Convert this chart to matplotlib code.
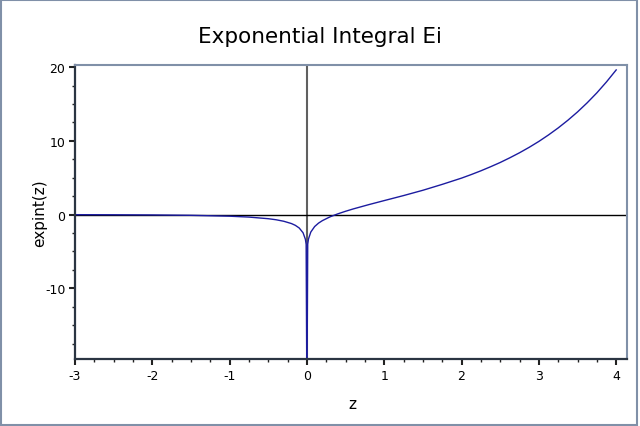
import numpy as np
import matplotlib
matplotlib.use("Agg")
import matplotlib.pyplot as plt
from matplotlib.patches import Rectangle
from matplotlib.ticker import MultipleLocator

plt.rcParams["axes.unicode_minus"] = False

# values
z = [-3, -2.5, -2, -1.5, -1, -0.75, -0.5, -0.4, -0.3, -0.2, -0.15, -0.1, -0.05, -0.02, -0.01,
     0.0,
     0.01, 0.02, 0.05, 0.1, 0.15, 0.2, 0.3, 0.4, 0.5, 0.6, 0.8, 1, 1.25, 1.5, 1.75,
     2, 2.125, 2.25, 2.375, 2.5, 2.625, 2.75, 2.875, 3, 3.125, 3.25, 3.375, 3.5,
     3.625, 3.75, 3.875, 4]
ei = [-0.013, -0.025, -0.049, -0.10, -0.219, -0.34, -0.56, -0.70, -0.906, -1.22, -1.46, -1.82,
      -2.47, -3.35, -4.04,
      -25.0,
      -4.02, -3.31, -2.37, -1.62, -1.16, -0.82, -0.30, 0.10, 0.45, 0.77, 1.35, 1.90, 2.58, 3.30, 4.10,
      4.95, 5.43, 5.94, 6.49, 7.07, 7.71, 8.39, 9.13, 9.93, 10.81, 11.76, 12.80, 13.93,
      15.17, 16.52, 18.01, 19.63]

title = "Exponential Integral Ei"
xlab = "z"
ylab = "expint(z)"

fig = plt.figure(figsize=(6.4, 4.27), dpi=100)
ax = fig.add_axes([75/640, 67/427, 552/640, 294/427])

ax.axvline(0, color="#606060", lw=1.5, zorder=1)
ax.axhline(0, color="black", lw=1.0, zorder=1)
ax.plot(z, ei, color="#1c1ca0", lw=1.0, zorder=2)

ax.set_xlim(-3, 4.14)
ax.set_ylim(-19.6, 20.3)
ax.xaxis.set_major_locator(MultipleLocator(1))
ax.xaxis.set_minor_locator(MultipleLocator(0.25))
ax.yaxis.set_major_locator(MultipleLocator(10))
ax.yaxis.set_minor_locator(MultipleLocator(2.5))
ax.tick_params(which="major", direction="out", length=4, width=1.5, color="#222222",
               labelsize=9, pad=3)
ax.tick_params(which="minor", direction="out", length=2, width=1, color="#222222")
ax.set_xticklabels([f"{int(v)}" for v in ax.get_xticks()])

for s in ("left", "bottom"):
    ax.spines[s].set_color("#2b3542")
    ax.spines[s].set_linewidth(1.6)
for s in ("top", "right"):
    ax.spines[s].set_color("#8090a8")
    ax.spines[s].set_linewidth(1.5)

fig.text(0.5, 1 - 37/427, title, ha="center", va="center", fontsize=15.5)
fig.text(352/640, 1 - 405/427, xlab, ha="center", va="center", fontsize=11)
fig.text(40/640, 1 - 213/427, ylab, ha="center", va="center", rotation=90, fontsize=11)

fig.patches.append(Rectangle((0.002, 0.003), 0.994, 0.994, transform=fig.transFigure,
                             fill=False, edgecolor="#8090a8", lw=1.5))

fig.savefig("out.png", dpi=100)
